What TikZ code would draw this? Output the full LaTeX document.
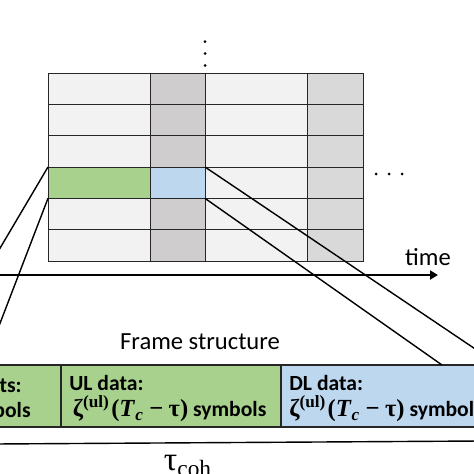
\documentclass[tikz,border=0pt]{standalone}
\usepackage{amsmath,amssymb}
\usepackage{fontspec}
\setmainfont{Carlito}
\newfontfamily\serifgr{Liberation Serif}
\usetikzlibrary{arrows.meta,positioning,calc}
\definecolor{Cell}{HTML}{F2F2F2}
\definecolor{GrayA}{HTML}{CFCDCD}
\definecolor{GrayB}{HTML}{D9D9D9}
\definecolor{ULgreen}{HTML}{A9D18E}
\definecolor{DLblue}{HTML}{BDD7EE}
\definecolor{Edge}{HTML}{262626}
\newcommand{\slotmath}{{\serifgr\bfseries\fontsize{14}{15.3}\selectfont ζ\textsuperscript{(ul)}\hspace{0.06em}(\textit{T}\textsubscript{\textit{c}}\hspace{0.22em}−\hspace{0.22em}τ)}}

\begin{document}
\begin{tikzpicture}[x=0.2mm,y=-0.2mm,
    cell/.style={draw=Edge,line width=0.55pt,minimum height=6.27mm,inner sep=0pt,outer sep=0pt},
    part/.style={draw=Edge,line width=0.6pt,minimum height=12.4mm,inner sep=0pt,outer sep=0pt},
    lbl/.style={font=\bfseries\fontsize{12.3}{15.3}\selectfont,align=left,inner sep=0pt},
    big/.style={font=\fontsize{14}{16}\selectfont,inner sep=0pt},
    zoomln/.style={line width=0.8pt,black},
    dot/.style={circle,fill=black,inner sep=0pt,minimum size=0.6mm}
  ]
  \useasboundingbox (0,0) rectangle (474,474);
  \clip (0,0) rectangle (474,474);
  % resource grid
  \foreach \r in {0,...,5}{
    \foreach \c/\xc/\w/\shade in {0/99.25/102.5/Cell,1/177.75/54.5/GrayA,2/256.25/102.5/Cell,3/335.25/55.5/GrayB}
      \node[cell,fill=\shade,minimum width=\w*0.2mm] (g\r\c) at (\xc,{88.67+31.33*\r}) {};
  }
  \node[cell,fill=ULgreen,minimum width=102.5*0.2mm] (ulcell) at (g30) {};
  \node[cell,fill=DLblue,minimum width=54.5*0.2mm] (dlcell) at (g31) {};
  % dots
  \foreach \y [count=\i] in {41.7,53.5,65.5} \node[dot] (vd\i) at (205,\y) {};
  \foreach \x [count=\i] in {376,389,402} \node[dot] (hd\i) at (\x,174) {};
  % time axis
  \coordinate (axstart) at (-5,275);
  \coordinate (axend) at (438,275);
  \draw[line width=1.4pt,-{Triangle[length=1.6mm,width=1.8mm]}] (axstart) -- (axend);
  \node[big] (timelbl) at (428,257) {time};
  % frame structure
  \node[big] (ftitle) at (200,342) {Frame structure};
  \node[part,fill=ULgreen,minimum width=161*0.2mm] (pilot) at (-19.5,396) {};
  \node[part,fill=ULgreen,minimum width=220*0.2mm] (uldata) at (171,396) {};
  \node[part,fill=DLblue,minimum width=279*0.2mm] (dldata) at (420.5,396) {};
  \node[lbl,anchor=east] (pilottop) at (22,385) {Pilots:};
  \node[lbl,anchor=east] (pilotbot) at (31,412) {{\serifgr τ} symbols};
  \node[lbl,anchor=west] (ultext) at (69,398.5) {UL data:\\\,\slotmath{} symbols};
  \node[lbl,anchor=west] (dltext) at (289,398.5) {DL data:\\\slotmath{} symbols};
  % zoom lines
  \coordinate (pl1) at (-69,365);
  \coordinate (pl2) at (-16,365);
  \coordinate (pr1) at (499,365);
  \coordinate (pr2) at (442,365);
  \draw[zoomln] (ulcell.north west) -- (pl1);
  \draw[zoomln] (ulcell.south west) -- (pl2);
  \draw[zoomln] (dlcell.north east) -- (pr1);
  \draw[zoomln] (dlcell.south east) -- (pr2);
  % coherence interval
  \coordinate (cl) at (-5,444);
  \coordinate (cr) at (480,441);
  \draw[line width=0.8pt] (cl) -- (cr);
  \node[font=\serifgr\fontsize{19}{20}\selectfont,inner sep=0pt,anchor=north] (tcoh) at (188,455) {τ\textsubscript{coh}};
\end{tikzpicture}
\end{document}
